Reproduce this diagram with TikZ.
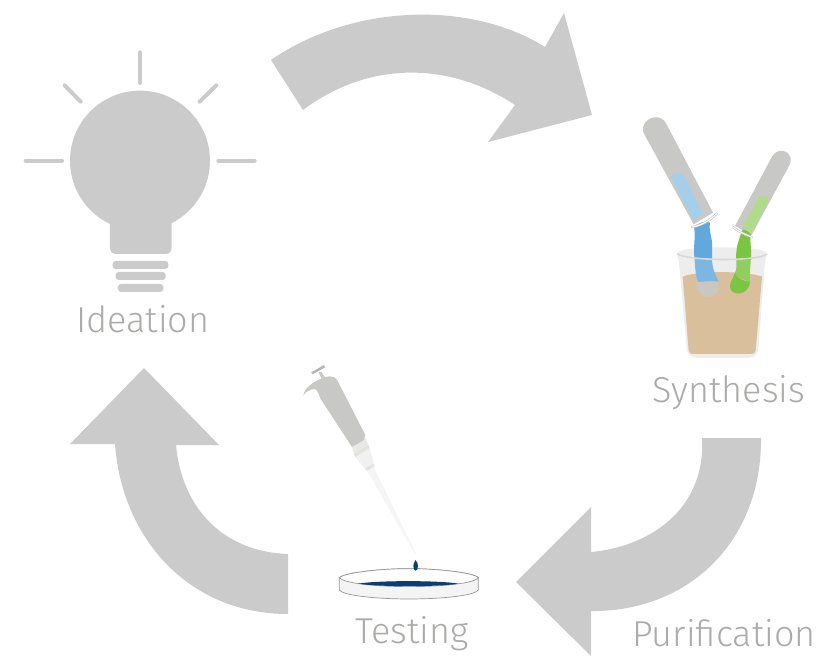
\documentclass[tikz,border=0pt]{standalone}
\usepackage{fontspec}
\setmainfont{Fira Sans Light}
\definecolor{shape}{HTML}{CBCBCB}
\definecolor{txt}{HTML}{ABACA9}
\definecolor{tube}{HTML}{C8C9C6}
\definecolor{glassc}{HTML}{ECEDEC}
\definecolor{liquid}{HTML}{D9BF9C}
\definecolor{bluelight}{HTML}{A3CFE8}
\definecolor{bluemid}{HTML}{62A8DC}
\definecolor{bluewet}{HTML}{7DB6E0}
\definecolor{greenlight}{HTML}{B0DB8A}
\definecolor{greenmid}{HTML}{7CC543}
\definecolor{navy}{HTML}{0B3C78}
\tikzset{
  arrowshape/.style={fill=shape,draw=none},
  label/.style={text=txt,font=\fontsize{36}{40}\selectfont,inner sep=0pt,anchor=base},
  ray/.style={draw=shape,line width=4pt,line cap=round},
  lamp/.style={fill=shape,draw=none},
  zoomed/.style={x=0.3333pt,y=-0.3333pt}
}
\begin{document}
\begin{tikzpicture}[x=1pt,y=-1pt]
\useasboundingbox (0,0) rectangle (829,669);
% cycle arrows
\fill[arrowshape] (271,60) .. controls (352,4) and (470,0) .. (545,47) -- (564,13) -- (592,115) -- (488,142) -- (515,105) .. controls (450,62) and (370,60) .. (303,110) -- cycle;
\fill[arrowshape] (761,438) .. controls (762,540) and (690,612) .. (591,611) -- (591,656) -- (516,582) -- (591,507) -- (591,552) .. controls (655,546) and (706,505) .. (702,438) -- cycle;
\fill[arrowshape] (288,614) .. controls (190,614) and (122,540) .. (115,444) -- (70,444) -- (144,368) -- (219,445) -- (176,445) .. controls (182,510) and (225,552) .. (288,554) -- cycle;
% lamp
\begin{scope}[shift={(15pt,-40pt)},zoomed]
\fill[lamp] (375,362) circle [radius=210];
\fill[lamp] (285,520) -- (285,622) .. controls (285,636) and (292,642) .. (306,642) -- (449,642) .. controls (463,642) and (470,636) .. (470,622) -- (470,520) -- cycle;
\fill[lamp,rounded corners=3pt] (293,663) rectangle (460,687);
\fill[lamp,rounded corners=3pt] (302,696) rectangle (452,720);
\fill[lamp,rounded corners=3pt] (309,732) rectangle (445,756);
\draw[ray] (375,37) -- (375,129);
\draw[ray] (149,136) -- (197,185);
\draw[ray] (604,136) -- (554,185);
\draw[ray] (32,362) -- (141,362);
\draw[ray] (610,362) -- (719,362);
\end{scope}
% tubes and glass
\begin{scope}[shift={(620pt,-100pt)},zoomed]
\fill[glassc] (170,462) .. controls (172,470) and (176,470) .. (178,500) -- (200,745) .. controls (202,768) and (215,774) .. (240,774) -- (375,774) .. controls (400,774) and (412,768) .. (415,745) -- (434,500) .. controls (436,475) and (440,470) .. (442,462) .. controls (440,450) and (400,442) .. (305,442) .. controls (210,442) and (172,450) .. (170,462) -- cycle;
\fill[liquid] (188,530) .. controls (230,512) and (380,512) .. (426,530) -- (407,752) .. controls (406,760) and (400,762) .. (390,762) -- (222,762) .. controls (212,762) and (208,760) .. (206,752) -- cycle;
% left tube
\fill[tube] (74,105) .. controls (60,85) and (75,55) .. (105,52) .. controls (122,50) and (132,60) .. (138,70) -- (279,338) -- (221,373) -- cycle;
\fill[bluelight] (153,232) .. controls (160,218) and (190,216) .. (200,240) -- (248,342) -- (222,362) -- cycle;
% right tube
\fill[tube] (455,172) .. controls (465,150) and (495,145) .. (508,165) .. controls (516,178) and (512,190) .. (506,200) -- (395,405) -- (345,378) -- cycle;
\fill[greenlight] (415,295) .. controls (425,285) and (445,285) .. (447,300) -- (395,398) -- (367,382) -- cycle;
% blue stream
\fill[tube!85!liquid] (228,540) .. controls (240,530) and (280,520) .. (294,540) .. controls (304,560) and (295,590) .. (265,591) .. controls (240,592) and (225,565) .. (228,540) -- cycle;
\fill[bluewet] (224,475) -- (276,475) .. controls (276,500) and (282,515) .. (296,545) .. controls (280,542) and (250,545) .. (234,546) .. controls (228,530) and (224,500) .. (224,475) -- cycle;
\fill[bluemid] (222,380) .. controls (235,370) and (255,360) .. (270,368) .. controls (265,385) and (275,410) .. (276,425) -- (276,475) -- (224,475) .. controls (218,445) and (228,415) .. (222,380) -- cycle;
% green stream
\fill[greenmid!85!white] (349,480) -- (392,480) .. controls (392,500) and (388,525) .. (390,545) .. controls (375,540) and (355,535) .. (344,520) .. controls (350,510) and (350,495) .. (349,480) -- cycle;
\fill[greenmid] (344,520) .. controls (340,535) and (330,545) .. (330,560) .. controls (330,575) and (345,582) .. (360,580) .. controls (378,578) and (390,560) .. (390,545) .. controls (375,545) and (355,538) .. (344,520) -- cycle;
\fill[greenmid] (368,388) .. controls (380,391) and (388,396) .. (393,403) .. controls (388,425) and (396,450) .. (393,480) -- (349,480) .. controls (346,450) and (355,420) .. (368,388) -- cycle;
% tube lips
\draw[tube,line width=2.4pt,line cap=round] (216,381) .. controls (240,378) and (270,362) .. (290,341);
\draw[white,line width=1pt,line cap=round] (216,381) .. controls (240,378) and (270,362) .. (290,341);
\draw[tube,line width=2.4pt,line cap=round] (340,382) .. controls (355,395) and (380,405) .. (396,412);
\draw[white,line width=1pt,line cap=round] (340,382) .. controls (355,395) and (380,405) .. (396,412);
% glass rim
\draw[tube!70!white,line width=1.6pt] (172,462) .. controls (200,482) and (410,486) .. (441,462);
\end{scope}
% pipette and dish
\begin{scope}[shift={(290pt,-355pt)},zoomed]
\fill[white!82!tube] (232,348) -- (252,338) -- (378,596) -- (374,596) -- cycle;
\fill[white!60!tube] (186,278) -- (226,248) -- (240,282) -- (197,308) -- cycle;
\fill[white!45!tube] (191,297) -- (236,270) -- (238,277) -- (195,304) -- cycle;
\fill[white!75!tube] (197,308) -- (240,282) -- (254,336) -- (232,348) -- cycle;
\fill[white!50!tube] (225,340) -- (250,326) -- (253,334) -- (230,348) -- cycle;
\fill[tube] (86,52) -- (94,50) -- (108,72) -- (98,78) -- cycle;
\fill[tube!90!black] (64,52) -- (102,30) -- (105,37) -- (68,58) -- cycle;
\fill[tube] (40,122) .. controls (42,100) and (65,85) .. (90,72) .. controls (110,62) and (135,60) .. (142,76) -- (226,240) -- (222,255) -- (186,276) -- (92,132) .. controls (86,118) and (82,100) .. (72,102) .. controls (60,104) and (46,110) .. (40,122) -- cycle;
\fill[white!40!glassc,draw=tube!75!black,line width=.7pt] (148,668) -- (148,705) .. controls (160,722) and (260,732) .. (357,732) .. controls (455,732) and (555,722) .. (565,705) -- (565,668) .. controls (555,655) and (455,641) .. (357,641) .. controls (260,641) and (160,655) .. (148,668) -- cycle;
\draw[tube!75!black,line width=.7pt,fill=white] (148,668) .. controls (160,655) and (260,641) .. (357,641) .. controls (455,641) and (555,655) .. (565,668) .. controls (555,685) and (455,695) .. (357,695) .. controls (260,695) and (160,685) .. (148,668) -- cycle;
\fill[navy] (205,686) .. controls (260,676) and (450,676) .. (505,686) .. controls (450,696) and (260,696) .. (205,686) -- cycle;
\fill[navy] (377,615) .. controls (382,622) and (384,628) .. (384,633) .. controls (384,642) and (380,647) .. (377,647) .. controls (374,647) and (370,642) .. (370,633) .. controls (370,628) and (372,622) .. (377,615) -- cycle;
\end{scope}
% labels
\node[label] (ideation) at (143,332) {Ideation};
\node[label] (synthesis) at (729,402) {Synthesis};
\node[label] (testing) at (412,643) {Testing};
\node[label] (purification) at (724,646) {Purification};
\end{tikzpicture}
\end{document}
